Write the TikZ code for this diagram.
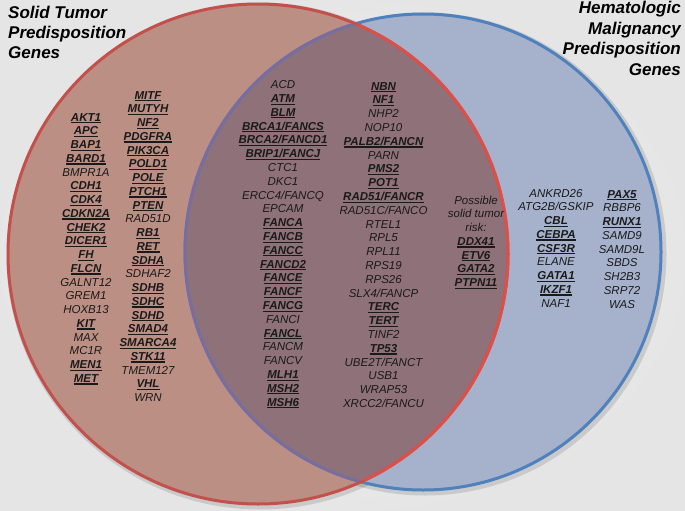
\documentclass[tikz,border=0pt]{standalone}
\usepackage{fontspec}
\setmainfont{Liberation Sans}
\definecolor{lfill}{HTML}{BC8F84}
\definecolor{rfill}{HTML}{A6B2CC}
\definecolor{ofill}{HTML}{8F717A}
\definecolor{redline}{HTML}{C4504B}
\definecolor{redbright}{HTML}{DC5049}
\definecolor{blueline}{HTML}{4F81BD}
\definecolor{purpline}{HTML}{7A6C9C}
\definecolor{txt}{HTML}{1A1A1A}
\newsavebox\gbox
\newcommand\gul[1]{\sbox\gbox{\bfseries #1}\rlap{\rule[-2.2pt]{\wd\gbox}{1.1pt}}\usebox\gbox}
\tikzset{
  gene/.style={font=\fontsize{11.5}{13.75}\selectfont\itshape, text=txt, inner sep=0pt, text height=8.2pt, text depth=0pt},
  ttl/.style={font=\fontsize{17}{20}\selectfont\bfseries\itshape, text=black, inner sep=0pt, text height=12.2pt, text depth=0pt},
  vline/.style={line width=3pt}
}
\begin{document}
\begin{tikzpicture}[x=1pt,y=-1pt]
\useasboundingbox (0,0) rectangle (685,511);
\shade[inner color=black!2, outer color=black!10] (0,0) rectangle (685,511);
\coordinate (L) at (258,254);
\coordinate (R) at (423,252);
% shadows
\draw[black, opacity=0.12, line width=7pt] ([shift={(2,2)}]L) circle[radius=250pt];
\draw[black, opacity=0.12, line width=7pt] ([shift={(2,2)}]R) circle[radius=238pt];
% fills
\fill[lfill] (L) circle[radius=250pt];
\fill[rfill] (R) circle[radius=238pt];
\begin{scope}
  \clip (L) circle[radius=250pt];
  \fill[ofill] (R) circle[radius=238pt];
\end{scope}
% outlines
\draw[vline, blueline] (R) circle[radius=238pt];
\begin{scope}
  \clip (L) circle[radius=248pt];
  \draw[vline, purpline] (R) circle[radius=238pt];
\end{scope}
\draw[vline, redline] (L) circle[radius=250pt];
\begin{scope}
  \clip (R) circle[radius=236pt];
  \draw[vline, redbright] (L) circle[radius=250pt];
\end{scope}

% titles
\node[ttl, anchor=west] (t1) at (8,12) {Solid Tumor};
\node[ttl, anchor=west] (t2) at (8,32) {Predisposition};
\node[ttl, anchor=west] (t3) at (8,52) {Genes};
\node[ttl, anchor=east] (h1) at (681,7.5) {Hematologic};
\node[ttl, anchor=east] (h2) at (681,28) {Malignancy};
\node[ttl, anchor=east] (h3) at (681,48.5) {Predisposition};
\node[ttl, anchor=east] (h4) at (681,69) {Genes};

% column 1
\foreach \g [count=\i from 0] in {\gul{AKT1},\gul{APC},\gul{BAP1},\gul{BARD1},BMPR1A,\gul{CDH1},\gul{CDK4},\gul{CDKN2A},\gul{CHEK2},\gul{DICER1},\gul{FH},\gul{FLCN},GALNT12,GREM1,HOXB13,\gul{KIT},MAX,MC1R,\gul{MEN1},\gul{MET}}
  \node[gene] (ca-\i) at (86,117+13.75*\i) {\g};
% column 2
\foreach \g [count=\i from 0] in {\gul{MITF},\gul{MUTYH},\gul{NF2},\gul{PDGFRA},\gul{PIK3CA},\gul{POLD1},\gul{POLE},\gul{PTCH1},\gul{PTEN},RAD51D,\gul{RB1},\gul{RET},\gul{SDHA},SDHAF2,\gul{SDHB},\gul{SDHC},\gul{SDHD},\gul{SMAD4},\gul{SMARCA4},\gul{STK11},TMEM127,\gul{VHL},WRN}
  \node[gene] (cb-\i) at (148,95+13.75*\i) {\g};
% column 3
\foreach \g [count=\i from 0] in {ACD,\gul{ATM},\gul{BLM},\gul{BRCA1/FANCS},\gul{BRCA2/FANCD1},\gul{BRIP1/FANCJ},CTC1,DKC1,ERCC4/FANCQ,EPCAM,\gul{FANCA},\gul{FANCB},\gul{FANCC},\gul{FANCD2},\gul{FANCE},\gul{FANCF},\gul{FANCG},FANCI,\gul{FANCL},FANCM,FANCV,\gul{MLH1},\gul{MSH2},\gul{MSH6}}
  \node[gene] (cc-\i) at (283,84.5+13.8*\i) {\g};
% column 4
\foreach \g [count=\i from 0] in {\gul{NBN},\gul{NF1},NHP2,NOP10,\gul{PALB2/FANCN},PARN,\gul{PMS2},\gul{POT1},\gul{RAD51/FANCR},RAD51C/FANCO,RTEL1,RPL5,RPL11,RPS19,RPS26,SLX4/FANCP,\gul{TERC},\gul{TERT},TINF2,\gul{TP53},UBE2T/FANCT,USB1,WRAP53,XRCC2/FANCU}
  \node[gene] (cd-\i) at (383.5,86+13.8*\i) {\g};
% possible solid tumor risk
\foreach \g [count=\i from 0] in {Possible,solid tumor,risk:,\gul{DDX41},\gul{ETV6},\gul{GATA2},\gul{PTPN11}}
  \node[gene] (ce-\i) at (476,200+13.75*\i) {\g};
% column 6
\foreach \g [count=\i from 0] in {ANKRD26,ATG2B/GSKIP,\gul{CBL},\gul{CEBPA},\gul{CSF3R},ELANE,\gul{GATA1},\gul{IKZF1},NAF1}
  \node[gene] (cf-\i) at (556,193+13.75*\i) {\g};
% column 7
\foreach \g [count=\i from 0] in {\gul{PAX5},RBBP6,\gul{RUNX1},SAMD9,SAMD9L,SBDS,SH2B3,SRP72,WAS}
  \node[gene] (cg-\i) at (622,194+13.75*\i) {\g};
\end{tikzpicture}
\end{document}
